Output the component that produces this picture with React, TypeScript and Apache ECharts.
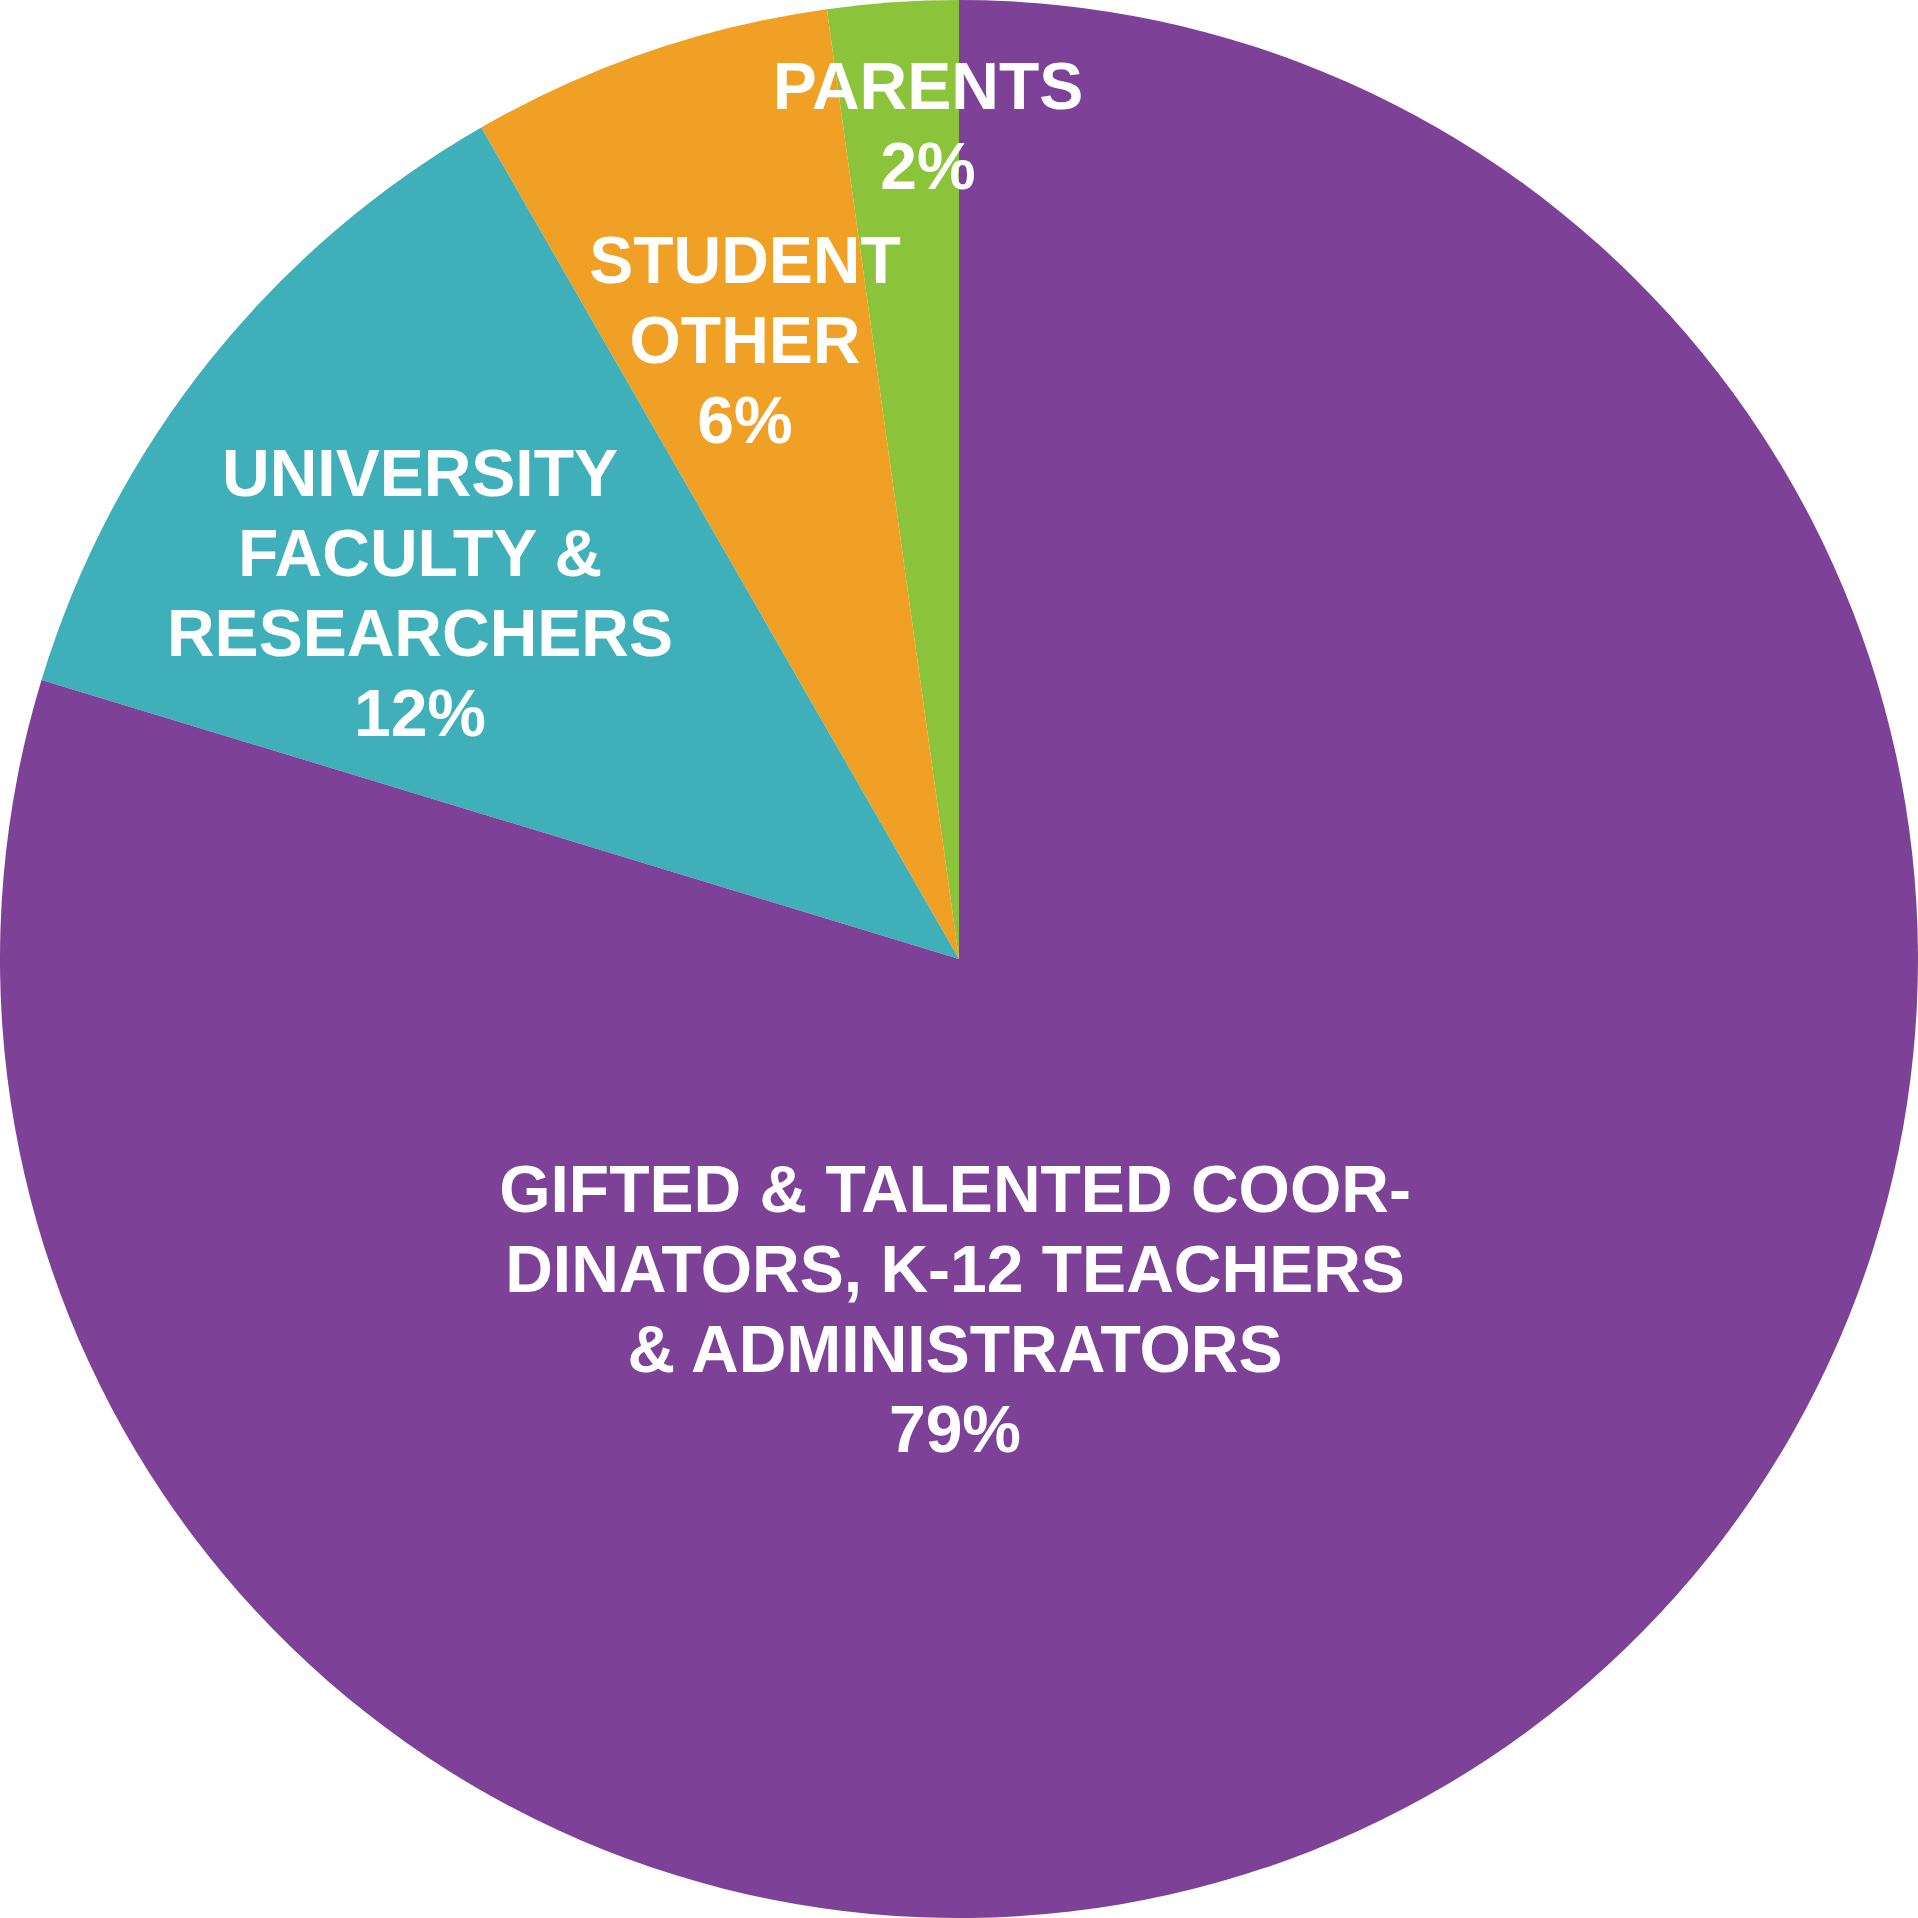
import React, { useEffect, useRef } from "react";
import * as echarts from "echarts";

const categories = [
  "PARENTS",
  "STUDENT\nOTHER",
  "UNIVERSITY\nFACULTY &\nRESEARCHERS",
  "GIFTED & TALENTED COOR-\nDINATORS, K-12 TEACHERS\n& ADMINISTRATORS",
];
const values = [2.2, 6.1, 12.0, 79.7];
const percentLabels = ["2%", "6%", "12%", "79%"];
const colors = ["#8BC43A", "#F0A125", "#3FB0B9", "#7D4197"];
const labelCenters = [
  [928, 126],
  [745, 340],
  [420, 593],
  [955, 1309],
];

export default function App() {
  const ref = useRef<HTMLDivElement>(null);
  useEffect(() => {
    if (!ref.current) return;
    const chart = echarts.init(ref.current, undefined, { renderer: "svg" });
    chart.setOption({
      animation: false,
      backgroundColor: "#ffffff",
      series: [
        {
          type: "pie",
          center: [959, 959],
          radius: [0, 959],
          startAngle: 90,
          clockwise: false,
          avoidLabelOverlap: false,
          silent: true,
          data: categories.map((name, i) => ({
            name,
            value: values[i],
            itemStyle: { color: colors[i] },
          })),
          itemStyle: { borderWidth: 0 },
          labelLine: { show: false },
          label: {
            show: true,
            position: "inside",
            color: "#ffffff",
            fontFamily: "'Liberation Sans', Arial, Helvetica, sans-serif",
            fontWeight: "bold",
            fontSize: 66,
            lineHeight: 80,
            align: "center",
            verticalAlign: "middle",
            formatter: (p: any) => p.name + "\n" + percentLabels[p.dataIndex],
          },
          labelLayout: (p: any) => ({
            x: labelCenters[p.dataIndex][0],
            y: labelCenters[p.dataIndex][1],
            align: "center",
            verticalAlign: "middle",
          }),
        },
      ],
    });
    return () => chart.dispose();
  }, []);
  return (
    <div
      ref={ref}
      style={{ position: "absolute", left: 0, top: 0, width: 1918, height: 1918 }}
    />
  );
}
